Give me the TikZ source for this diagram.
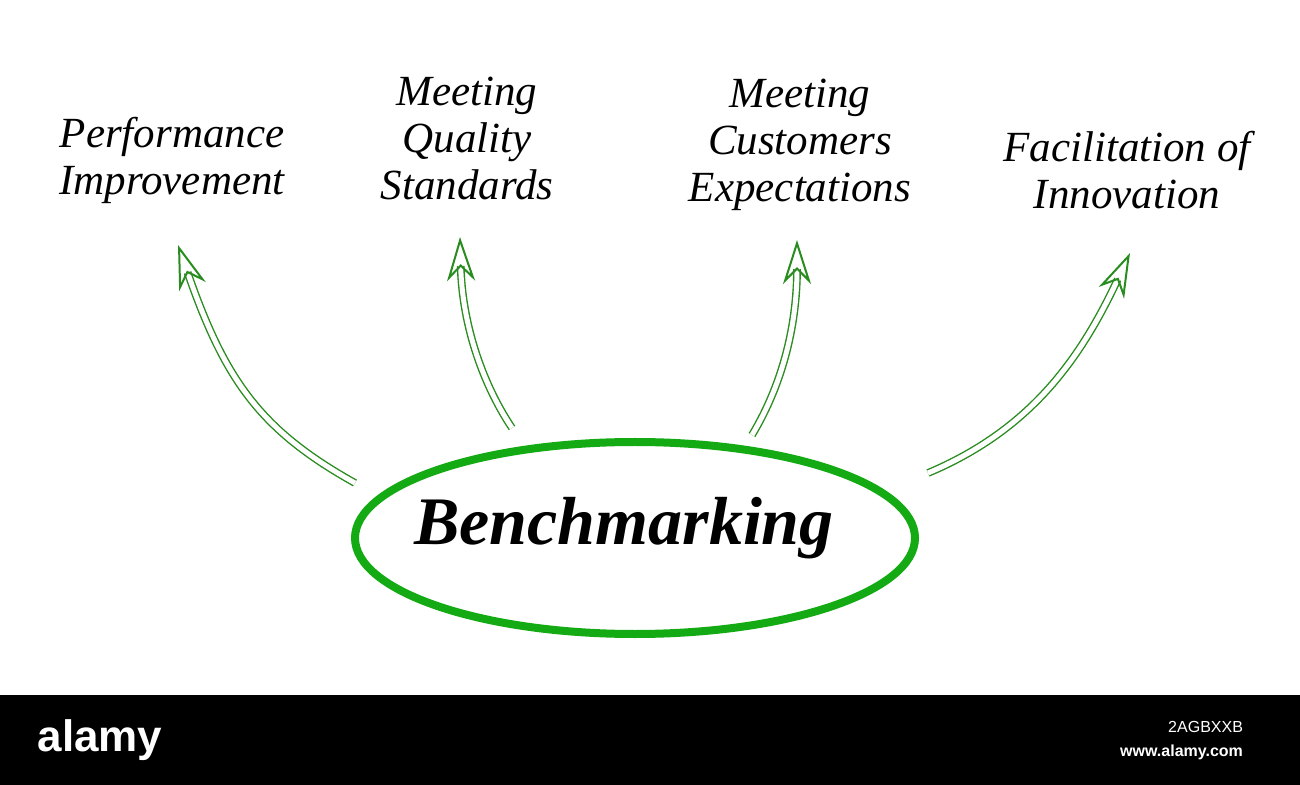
\documentclass[tikz,border=0pt]{standalone}
\usepackage{fontspec}
\setmainfont{Liberation Serif}
\newfontfamily\barfont{Liberation Sans}
\usetikzlibrary{arrows.meta,shapes.geometric}
\definecolor{arrg}{RGB}{40,140,30}
\definecolor{ellg}{RGB}{20,170,20}
\tikzset{
  lbl/.style={font=\fontsize{21.5}{23.5}\selectfont\itshape, align=center, text=black},
  hollow/.style={draw=arrg, line width=0.7pt, double=white, double distance=2.5pt,
     -{Stealth[open, length=22pt, width=14pt, inset=7pt, line width=1pt]}}
}
\begin{document}
\begin{tikzpicture}[x=0.5pt,y=-0.5pt]
\useasboundingbox (0,0) rectangle (1300,785);
\fill[white] (0,0) rectangle (1300,785);
\node[lbl] (pi) at (172,160) {Performance\\Improvement};
\node[lbl] (mq) at (467,138) {Meeting\\Quality\\Standards};
\node[lbl] (mc) at (800,145) {Meeting\\Customers\\Expectations};
\node[lbl] (fi) at (1127,170) {Facilitation of\\Innovation};
\node[draw=ellg, line width=4pt, ellipse, inner sep=0pt,
  minimum width=280pt, minimum height=96pt] (b) at (635,538) {};
\node[font=\fontsize{34}{36}\selectfont\bfseries\itshape] (bt) at (624,528) {Benchmarking};
\coordinate (s1) at (355,483); \coordinate (e1) at (178,245);
\coordinate (s2) at (512,428); \coordinate (e2) at (460,237);
\coordinate (s3) at (752,435); \coordinate (e3) at (797,240);
\coordinate (s4) at (928,473); \coordinate (e4) at (1130,253);
\draw[hollow] (s1) .. controls (260,430) and (225,380) .. (e1);
\draw[hollow] (s2) .. controls (480,380) and (462,320) .. (e2);
\draw[hollow] (s3) .. controls (785,380) and (797,320) .. (e3);
\draw[hollow] (s4) .. controls (1030,430) and (1080,360) .. (e4);
\fill[black] (0,695) rectangle (1300,785);
\node[text=white, font=\barfont\fontsize{22}{24}\selectfont\bfseries] (al) at (100,740) {alamy};
\node[text=white, font=\barfont\fontsize{8}{9}\selectfont, anchor=east] (id) at (1250,727) {2AGBXXB};
\node[text=white, font=\barfont\fontsize{8}{9}\selectfont\bfseries, anchor=east] (www) at (1250,752) {www.alamy.com};
\end{tikzpicture}
\end{document}
